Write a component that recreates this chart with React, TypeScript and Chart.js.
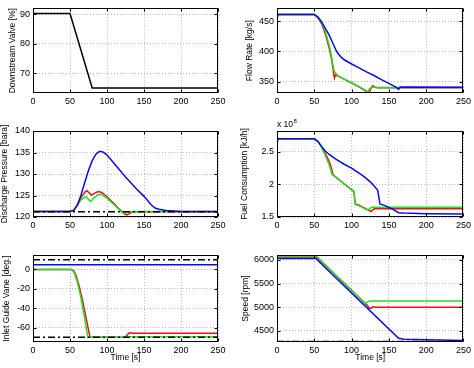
import React, { useEffect, useRef } from "react";
import { Chart, registerables } from "chart.js";
Chart.register(...registerables);

const FONT = '"Liberation Sans", Arial, Helvetica, sans-serif';
const BLUE = "#0a0ae6";
const RED = "#ee1111";
const GREEN = "#22e022";
const BLACK = "#000000";

const X_TICKS = [0, 50, 100, 150, 200, 250];
const X_TITLE = "Time [s]";

// Panel 1: Downstream valve
const valveT = [0, 50, 80, 250];
const valveV = [90.3, 90.3, 65, 65];
const valveTicks = [70, 80, 90];

// Panel 2: Flow rate
const flowBlueT = [0, 1, 50, 55, 60, 65, 70, 75, 80, 85, 90, 100, 110, 120, 130, 140, 150, 160, 163, 165, 250];
const flowBlueV = [463, 461, 461, 456.5, 448.4, 437.6, 426.8, 413, 399.7, 391.6, 386, 379, 372.7, 366, 360, 353, 347, 340.3, 337, 340.8, 340.5];
const flowRedT = [0, 50, 55, 60, 65, 70, 73, 75, 76, 77, 78, 79, 80, 90, 100, 110, 118, 121, 123, 126, 128, 131, 135, 250];
const flowRedV = [461, 461, 455, 445, 428, 405, 388, 372, 362, 356, 360, 362, 360, 354, 347.5, 341, 335, 331, 331, 338, 343, 341, 339.5, 339.5];
const flowGreenT = [0, 50, 55, 60, 65, 70, 73, 75, 77, 79, 81, 90, 100, 110, 120, 122, 125, 128, 132, 250];
const flowGreenV = [461, 461, 456, 447, 432, 410, 392, 377, 365, 363, 360, 354, 348, 341.5, 334.5, 334, 339, 341, 340, 340];
const flowTicks = [350, 400, 450];

// Panel 3: Discharge pressure
const presRefT = [0, 250];
const presRefV = [121.2, 121.2];
const presBlueT = [0, 50, 55, 60, 65, 70, 75, 80, 85, 90, 95, 100, 110, 125, 140, 150, 160, 165, 170, 180, 200, 250];
const presBlueV = [121.3, 121.3, 121.6, 122.7, 125.2, 128.1, 130.8, 133.1, 134.6, 135.3, 135.1, 134.4, 132.4, 129.3, 126.5, 124.8, 122.8, 122.1, 121.8, 121.5, 121.3, 121.3];
const presRedT = [0, 50, 55, 60, 65, 70, 73, 76, 79, 83, 88, 93, 100, 110, 115, 120, 124, 127, 130, 135, 250];
const presRedV = [121.3, 121.3, 121.5, 123.0, 124.5, 125.8, 126.1, 125.6, 125.1, 125.5, 125.9, 125.7, 124.7, 123.0, 122.1, 121.3, 120.7, 120.5, 120.8, 121.2, 121.2];
const presGreenT = [0, 50, 55, 60, 65, 70, 72, 75, 78, 82, 88, 92, 100, 110, 116, 120, 123, 128, 135, 250];
const presGreenV = [121.3, 121.3, 121.5, 122.8, 124.0, 124.6, 124.7, 124.1, 123.6, 124.4, 125.2, 125.3, 124.4, 122.8, 121.8, 121.1, 120.9, 121.1, 121.3, 121.3];
const presTicks = [120, 125, 130, 135, 140];

// Panel 4: Fuel consumption (x 10^8 kJ/h)
const fuelBlueT = [0, 1, 50, 55, 60, 65, 70, 75, 80, 90, 100, 113, 120, 125, 130, 135, 138, 145, 155, 163, 170, 200, 250];
const fuelBlueV = [2.72, 2.7, 2.7, 2.66, 2.58, 2.51, 2.46, 2.42, 2.38, 2.31, 2.25, 2.15, 2.09, 2.04, 1.98, 1.91, 1.7, 1.675, 1.62, 1.565, 1.56, 1.55, 1.545];
const fuelRedT = [0, 50, 55, 60, 65, 70, 73, 75, 78, 80, 90, 100, 103, 105, 110, 120, 124, 126, 129, 131, 250];
const fuelRedV = [2.7, 2.7, 2.66, 2.57, 2.47, 2.35, 2.25, 2.15, 2.12, 2.1, 2.01, 1.92, 1.89, 1.7, 1.68, 1.62, 1.6, 1.585, 1.615, 1.625, 1.625];
const fuelGreenT = [0, 50, 55, 60, 65, 70, 74, 78, 80, 90, 100, 103, 105, 110, 120, 123, 126, 130, 250];
const fuelGreenV = [2.7, 2.7, 2.65, 2.56, 2.44, 2.3, 2.15, 2.12, 2.1, 2.01, 1.92, 1.89, 1.69, 1.675, 1.61, 1.615, 1.645, 1.65, 1.65];
const fuelTicks = [1.5, 2, 2.5];

// Panel 5: Inlet guide vane
const igvUpperT = [0, 250];
const igvUpperV = [10, 10];
const igvLowerT = [0, 250];
const igvLowerV = [-70, -70];
const igvBlueT = [0, 250];
const igvBlueV = [5, 5];
const igvRedT = [0, 52, 55, 58, 62, 67, 72, 77, 125, 127, 130, 135, 250];
const igvRedV = [0, 0, -1, -6, -16, -32, -51, -70, -70, -68, -65.5, -66, -66];
const igvGreenT = [0, 50, 53, 56, 60, 65, 70, 74, 128, 132, 250];
const igvGreenV = [0, 0, -0.5, -4, -13, -30, -51, -70, -70, -69.5, -69.5];
const igvTicks = [-60, -40, -20, 0];

// Panel 6: Speed
const speedRefT = [0, 250];
const speedRefV = [4278, 4278];
const speedBlueT = [0, 52, 163, 170, 200, 250];
const speedBlueV = [6030, 6030, 4345, 4325, 4310, 4295];
const speedRedT = [0, 53, 121, 124, 126, 129, 132, 250];
const speedRedV = [6065, 6065, 5040, 4970, 4980, 5010, 5000, 5000];
const speedGreenT = [0, 53, 118, 121, 124, 250];
const speedGreenV = [6080, 6080, 5080, 5110, 5130, 5130];
const speedTicks = [4500, 5000, 5500, 6000];

const pts = (t: number[], v: number[]) => t.map((x, i) => ({ x, y: v[i] }));

const line = (t: number[], v: number[], color: string, dash?: number[]) => ({
  data: pts(t, v),
  borderColor: color,
  backgroundColor: color,
  borderWidth: 1.5,
  borderDash: dash || [],
  pointRadius: 0,
  fill: false,
  tension: 0,
});

const DASHDOT = [7, 3, 2, 3];
const TICK_SIZE = 9;
const TITLE_SIZE = 8.5;

const boxPlugin = {
  id: "box",
  afterDraw(chart: any) {
    const { ctx, chartArea: a, scales } = chart;
    ctx.save();
    ctx.strokeStyle = "#000";
    ctx.lineWidth = 1;
    ctx.setLineDash([]);
    const L = Math.round(a.left) + 0.5;
    const T = Math.round(a.top) + 0.5;
    const R = Math.round(a.right) - 0.5;
    const B = Math.round(a.bottom) - 0.5;
    ctx.strokeRect(L, T, R - L, B - T);
    ctx.beginPath();
    for (const tk of scales.x.ticks) {
      const px = Math.round(scales.x.getPixelForValue(tk.value)) + 0.5;
      ctx.moveTo(px, B);
      ctx.lineTo(px, B - 3);
      ctx.moveTo(px, T);
      ctx.lineTo(px, T + 3);
    }
    for (const tk of scales.y.ticks) {
      const py = Math.round(scales.y.getPixelForValue(tk.value)) + 0.5;
      ctx.moveTo(L, py);
      ctx.lineTo(L + 3, py);
      ctx.moveTo(R, py);
      ctx.lineTo(R - 3, py);
    }
    ctx.stroke();
    const extra = chart.options.plugins.box && chart.options.plugins.box.exponent;
    if (extra) {
      ctx.fillStyle = "#000";
      ctx.font = `8.5px ${FONT}`;
      ctx.textBaseline = "alphabetic";
      ctx.textAlign = "left";
      const base = a.top - 4;
      ctx.fillText(extra.base, a.left, base);
      const w = ctx.measureText(extra.base).width;
      ctx.font = `6px ${FONT}`;
      ctx.fillText(extra.exp, a.left + w + 0.5, base - 4);
    }
    ctx.restore();
  },
};

type Spec = {
  left: number;
  top: number;
  width: number;
  height: number;
  padTop: number;
  padRight: number;
  yAxisW: number;
  xAxisH: number;
  yMin: number;
  yMax: number;
  yTicks: number[];
  yTitle: string;
  titlePad: number;
  xTitle?: string;
  datasets: any[];
  exponent?: { base: string; exp: string };
};

function Panel({ spec }: { spec: Spec }) {
  const ref = useRef<HTMLCanvasElement>(null);
  useEffect(() => {
    const canvas = ref.current!;
    const chart = new Chart(canvas, {
      type: "line",
      data: { datasets: spec.datasets },
      plugins: [boxPlugin],
      options: {
        animation: false,
        responsive: false,
        devicePixelRatio: 1,
        events: [],
        layout: { padding: { left: 0, right: spec.padRight, top: spec.padTop, bottom: 0 } },
        plugins: {
          legend: { display: false },
          tooltip: { enabled: false },
          box: { exponent: spec.exponent },
        } as any,
        scales: {
          x: {
            type: "linear",
            min: 0,
            max: 250,
            afterBuildTicks: (s: any) => {
              s.ticks = X_TICKS.map((v) => ({ value: v }));
            },
            afterFit: (s: any) => {
              s.height = spec.xAxisH;
            },
            grid: { display: true, drawTicks: false, color: "#b8b8b8", lineWidth: 1 },
            border: { display: false, dash: [1, 2] },
            ticks: {
              color: "#000",
              padding: 3,
              maxRotation: 0,
              font: { family: FONT, size: TICK_SIZE },
              callback: (v: any) => String(v),
            },
            title: {
              display: !!spec.xTitle,
              text: spec.xTitle || "",
              color: "#000",
              font: { family: FONT, size: TITLE_SIZE },
              padding: { top: 0, bottom: 5 },
            },
          },
          y: {
            type: "linear",
            min: spec.yMin,
            max: spec.yMax,
            afterBuildTicks: (s: any) => {
              s.ticks = spec.yTicks.map((v) => ({ value: v }));
            },
            afterFit: (s: any) => {
              s.width = spec.yAxisW;
            },
            grid: { display: true, drawTicks: false, color: "#b8b8b8", lineWidth: 1 },
            border: { display: false, dash: [1, 2] },
            ticks: {
              color: "#000",
              padding: 3,
              font: { family: FONT, size: TICK_SIZE },
              callback: (v: any) => String(v),
            },
            title: {
              display: true,
              text: spec.yTitle,
              color: "#000",
              font: { family: FONT, size: TITLE_SIZE },
              padding: { top: spec.titlePad, bottom: 0 },
            },
          },
        },
      } as any,
    });
    return () => chart.destroy();
  }, []);
  return (
    <canvas
      ref={ref}
      width={spec.width}
      height={spec.height}
      style={{ position: "absolute", left: spec.left, top: spec.top, width: spec.width, height: spec.height }}
    />
  );
}

const LEFT = { left: 0, width: 237, yAxisW: 33, padRight: 19 };
const RIGHT = { left: 237, width: 237, yAxisW: 40, padRight: 10 };
const ROW1 = { top: 0, height: 115, padTop: 6, xAxisH: 22 };
const ROW2 = { top: 115, height: 125, padTop: 16, xAxisH: 23 };
const ROW3 = { top: 240, height: 128, padTop: 15, xAxisH: 26 };

const panels: Spec[] = [
  {
    ...LEFT,
    ...ROW1,
    titlePad: 8,
    yMin: 63.3,
    yMax: 92,
    yTicks: valveTicks,
    yTitle: "Downstream Valve [%]",
    datasets: [line(valveT, valveV, BLACK)],
  },
  {
    ...RIGHT,
    ...ROW1,
    titlePad: 8,
    yMin: 331,
    yMax: 471,
    yTicks: flowTicks,
    yTitle: "Flow Rate [kg/s]",
    datasets: [
      line(flowBlueT, flowBlueV, BLUE),
      line(flowGreenT, flowGreenV, GREEN),
      line(flowRedT, flowRedV, RED),
    ],
  },
  {
    ...LEFT,
    ...ROW2,
    titlePad: 0,
    yMin: 120,
    yMax: 140,
    yTicks: presTicks,
    yTitle: "Discharge Pressure [bara]",
    datasets: [
      line(presRefT, presRefV, BLACK, DASHDOT),
      line(presBlueT, presBlueV, BLUE),
      line(presGreenT, presGreenV, GREEN),
      line(presRedT, presRedV, RED),
    ],
  },
  {
    ...RIGHT,
    ...ROW2,
    titlePad: 3,
    yMin: 1.5,
    yMax: 2.82,
    yTicks: fuelTicks,
    yTitle: "Fuel Consumption [kJ/h]",
    exponent: { base: "x 10", exp: "8" },
    datasets: [
      line(fuelBlueT, fuelBlueV, BLUE),
      line(fuelGreenT, fuelGreenV, GREEN),
      line(fuelRedT, fuelRedV, RED),
    ],
  },
  {
    ...LEFT,
    ...ROW3,
    titlePad: 2,
    yMin: -75,
    yMax: 15,
    yTicks: igvTicks,
    yTitle: "Inlet Guide Vane [deg.]",
    xTitle: X_TITLE,
    datasets: [
      line(igvUpperT, igvUpperV, BLACK, DASHDOT),
      line(igvLowerT, igvLowerV, BLACK, DASHDOT),
      line(igvBlueT, igvBlueV, BLUE),
      line(igvGreenT, igvGreenV, GREEN),
      line(igvRedT, igvRedV, RED),
    ],
  },
  {
    ...RIGHT,
    ...ROW3,
    titlePad: 3.5,
    yMin: 4265,
    yMax: 6105,
    yTicks: speedTicks,
    yTitle: "Speed [rpm]",
    xTitle: X_TITLE,
    datasets: [
      line(speedRefT, speedRefV, BLACK, DASHDOT),
      line(speedBlueT, speedBlueV, BLUE),
      line(speedGreenT, speedGreenV, GREEN),
      line(speedRedT, speedRedV, RED),
    ],
  },
];

export default function App() {
  return (
    <div style={{ position: "fixed", left: 0, top: 0, width: 474, height: 368, background: "#fff" }}>
      {panels.map((p, i) => (
        <Panel key={i} spec={p} />
      ))}
    </div>
  );
}
